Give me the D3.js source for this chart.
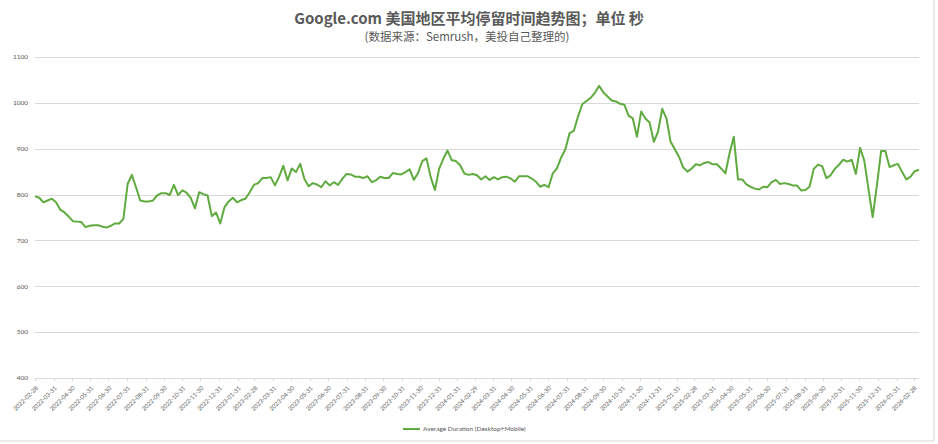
<!DOCTYPE html>
<html>
<head>
    <meta charset="UTF-8">
    <script src="https://d3js.org/d3.v7.min.js"></script>
    <style>
        body { margin: 0; background: #fff; }
        text { fill: #595959; }
        .grid line { stroke: #d9d9d9; stroke-width: 1px; }
        .ylab { font: 6.5px Lato, sans-serif; }
        .xlab { font: 6px Lato, sans-serif; }
    </style>
</head>
<body>
    <svg width="938" height="444"></svg>
    <script>
        const width = 938, height = 444;

        // weekly series start, one value per week
        const startDate = "2022-02-28";
        const durations = [
            796, 793, 783, 787, 791, 783, 767, 761, 752, 742,
            741, 740, 729, 732, 733, 733, 730, 728, 732, 737,
            737, 747, 823, 843, 816, 787, 785, 785, 787, 798,
            803, 803, 799, 821, 799, 809, 804, 793, 770, 805,
            801, 798, 753, 761, 737, 772, 785, 793, 783, 788,
            791, 805, 821, 825, 836, 836, 838, 820, 839, 863,
            831, 857, 849, 867, 834, 818, 825, 822, 816, 829,
            820, 827, 821, 834, 845, 844, 839, 839, 836, 840,
            827, 831, 839, 836, 836, 847, 845, 844, 849, 855,
            832, 847, 873, 879, 838, 810, 856, 878, 896, 875,
            873, 864, 846, 843, 845, 842, 833, 840, 832, 838,
            833, 838, 839, 835, 828, 840, 840, 840, 835, 828,
            817, 821, 816, 846, 857, 881, 899, 934, 939, 970,
            997, 1004, 1011, 1022, 1037, 1023, 1014, 1005, 1003, 998,
            996, 972, 966, 926, 981, 966, 957, 915, 937, 987,
            966, 915, 899, 882, 859, 850, 857, 866, 864, 869,
            871, 866, 866, 857, 846, 890, 926, 833, 833, 822,
            817, 813, 811, 817, 816, 827, 832, 823, 825, 823,
            820, 820, 809, 810, 817, 856, 865, 862, 836, 842,
            856, 865, 876, 872, 876, 845, 902, 874, 812, 751,
            820, 895, 895, 860, 864, 867, 849, 833, 839, 851,
            854
        ];
        const yTicks = [400, 500, 600, 700, 800, 900, 1000, 1100];
        const tickMonths = 49; // month-end labels 2022-02-28 .. 2026-02-28
        const titleText = "Google.com 美国地区平均停留时间趋势图；单位 秒";
        const subtitleText = "(数据来源：Semrush，美投自己整理的)";
        const seriesName = "Average Duration (Desktop+Mobile)";

        const parse = d3.timeParse("%Y-%m-%d");
        const fmt = d3.timeFormat("%Y-%m-%d");
        const t0 = parse(startDate);
        const data = durations.map((v, i) => ({ date: d3.timeWeek.offset(t0, i), value: v }));
        const tickDates = d3.range(tickMonths).map(i => new Date(2022, 2 + i, 0));

        const svg = d3.select("svg");

        // chart frame
        svg.append("rect")
            .attr("x", -1).attr("y", -1)
            .attr("width", 935).attr("height", 442)
            .attr("fill", "none").attr("stroke", "#d9d9d9");

        let x = d3.scaleTime()
            .domain(d3.extent(data, d => d.date))
            .range([35, 919]);
        let y = d3.scaleLinear()
            .domain([400, 1100])
            .range([378, 57]);

        // horizontal gridlines
        svg.append("g").attr("class", "grid")
            .selectAll("line")
            .data(yTicks)
            .enter().append("line")
            .attr("x1", 35).attr("x2", 919)
            .attr("y1", d => Math.round(y(d)) + 0.5)
            .attr("y2", d => Math.round(y(d)) + 0.5);

        // y labels
        svg.append("g")
            .selectAll("text")
            .data(yTicks)
            .enter().append("text")
            .attr("class", "ylab")
            .attr("x", 28)
            .attr("y", d => y(d))
            .attr("dy", "0.35em")
            .attr("text-anchor", "end")
            .text(d => d);

        // x axis ticks + rotated labels
        let xg = svg.append("g");
        xg.selectAll("line")
            .data(tickDates)
            .enter().append("line")
            .attr("x1", d => Math.round(x(d)) + 0.5)
            .attr("x2", d => Math.round(x(d)) + 0.5)
            .attr("y1", 378).attr("y2", 381)
            .attr("stroke", "#d9d9d9");
        xg.selectAll("text")
            .data(tickDates)
            .enter().append("text")
            .attr("class", "xlab")
            .attr("text-anchor", "end")
            .attr("dy", "0.35em")
            .attr("transform", d => "translate(" + (x(d) + 2) + ",387) rotate(-45)")
            .text(d => fmt(d));

        // line
        let line = d3.line()
            .x(d => x(d.date))
            .y(d => y(d.value));
        svg.append("path")
            .datum(data)
            .attr("fill", "none")
            .attr("stroke", "#5fab3f")
            .attr("stroke-width", 2)
            .attr("stroke-linejoin", "round")
            .attr("d", line);

        // titles
        svg.append("text")
            .attr("x", 469).attr("y", 24)
            .attr("text-anchor", "middle")
            .style("font", "bold 15px 'Noto Sans CJK SC', sans-serif")
            .text(titleText);
        svg.append("text")
            .attr("x", 467).attr("y", 41)
            .attr("text-anchor", "middle")
            .style("font", "11.5px 'Noto Sans CJK SC', sans-serif")
            .text(subtitleText);

        // legend
        svg.append("line")
            .attr("x1", 403).attr("x2", 420)
            .attr("y1", 429).attr("y2", 429)
            .attr("stroke", "#5fab3f").attr("stroke-width", 2);
        svg.append("text")
            .attr("x", 423).attr("y", 429)
            .attr("dy", "0.35em")
            .style("font", "6.5px Lato, sans-serif")
            .text(seriesName);
    </script>
</body>
</html>
